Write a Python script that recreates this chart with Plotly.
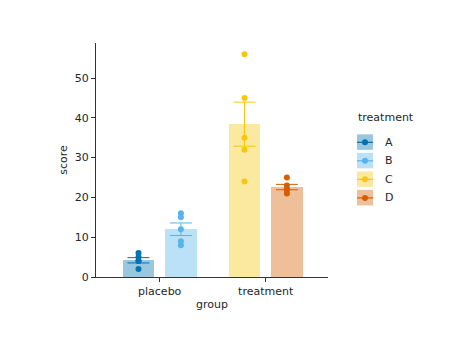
import numpy as np
import plotly.graph_objects as go

groups = ["placebo", "treatment"]
treatments = ["A", "B", "C", "D"]
treatment_group = ["placebo", "placebo", "treatment", "treatment"]
dodge = [-0.2, 0.2, -0.2, 0.2]
scores_A = [2, 4, 4, 5, 6]
scores_B = [8, 9, 12, 15, 16]
scores_C = [24, 32, 35, 45, 56]
scores_D = [21, 22, 22, 23, 25]
scores = [scores_A, scores_B, scores_C, scores_D]
colors = ["#0072B2", "#56B4E9", "#F5C710", "#D55E00"]
y_ticks = [0, 10, 20, 30, 40, 50]

# page body has an 8px margin; screen coordinates below are offset by it
OFF = 8
W, H = 474, 355
L_SCR, R_SCR, T_SCR, B_SCR = 96, 328, 43.3, 277
ML = L_SCR - OFF
MR = W - (R_SCR - OFF)
MT = T_SCR - OFF
MB = H - (B_SCR - OFF)
PW, PH = R_SCR - L_SCR, B_SCR - T_SCR
FONT = "DejaVu Sans"
AX = "#333333"
TXT = "#262626"


def rgba(hx, a):
    hx = hx.lstrip("#")
    r, g, b = int(hx[0:2], 16), int(hx[2:4], 16), int(hx[4:6], 16)
    return f"rgba({r},{g},{b},{a})"


def px(x):
    return (x - L_SCR) / PW


def py(y):
    return (B_SCR - y) / PH


fig = go.Figure()
for t, g, off, vals, col in zip(treatments, treatment_group, dodge, scores, colors):
    xpos = groups.index(g) + off
    v = np.array(vals, dtype=float)
    m = v.mean()
    se = v.std(ddof=1) / np.sqrt(len(v))
    fig.add_trace(go.Bar(x=[xpos], y=[m], width=0.3, marker=dict(color=rgba(col, 0.4), line=dict(width=0)),
                         showlegend=False, hoverinfo="skip"))
    fig.add_trace(go.Scatter(x=[xpos] * len(v), y=v, mode="markers",
                             marker=dict(color=col, size=6, line=dict(width=0)), showlegend=False))
    fig.add_trace(go.Scatter(x=[xpos], y=[m], mode="markers", marker=dict(size=0.1, color=col, opacity=0),
                             error_y=dict(type="data", array=[se], color=col, thickness=1, width=11),
                             showlegend=False))

fig.update_layout(
    width=W, height=H,
    margin=dict(l=ML, r=MR, t=MT, b=MB, pad=0),
    plot_bgcolor="white", paper_bgcolor="white",
    font=dict(family=FONT, size=11, color=TXT),
    bargap=0,
    xaxis=dict(range=[-0.601, 1.588], tickvals=list(range(len(groups))), ticktext=groups,
               showgrid=False, zeroline=False, showline=True, linecolor=AX, linewidth=1,
               ticks="outside", ticklen=4, tickcolor=AX, tickfont=dict(size=11, color=TXT),
               title=dict(text="group", font=dict(size=11, color=TXT), standoff=3)),
    yaxis=dict(range=[0, 58.8], tickvals=y_ticks, showgrid=False, zeroline=False,
               showline=True, linecolor=AX, linewidth=1, ticks="outside", ticklen=4, tickcolor=AX,
               tickfont=dict(size=11, color=TXT),
               title=dict(text="score", font=dict(size=11, color=TXT), standoff=4)),
)

# legend
fig.add_annotation(x=px(356), y=py(118), xref="paper", yref="paper", text="treatment",
                   showarrow=False, xanchor="left", yanchor="middle", font=dict(size=11, color=TXT))
row0, step = 142.5, 18.5
for i, (t, col) in enumerate(zip(treatments, colors)):
    cy = row0 + i * step
    fig.add_shape(type="rect", xref="paper", yref="paper", x0=px(357), x1=px(373), y0=py(cy - 8), y1=py(cy + 7.5),
                  fillcolor=rgba(col, 0.4), line=dict(width=0), layer="above")
    fig.add_shape(type="line", xref="paper", yref="paper", x0=px(357), x1=px(373), y0=py(cy), y1=py(cy),
                  line=dict(color=col, width=1.2), layer="above")
    fig.add_shape(type="circle", xref="paper", yref="paper", x0=px(362), x1=px(368), y0=py(cy - 3), y1=py(cy + 3),
                  fillcolor=col, line=dict(width=0), layer="above")
    fig.add_annotation(x=px(383), y=py(cy), xref="paper", yref="paper", text=t, showarrow=False,
                       xanchor="left", yanchor="middle", font=dict(size=11, color=TXT))

fig.write_html("out.html")
